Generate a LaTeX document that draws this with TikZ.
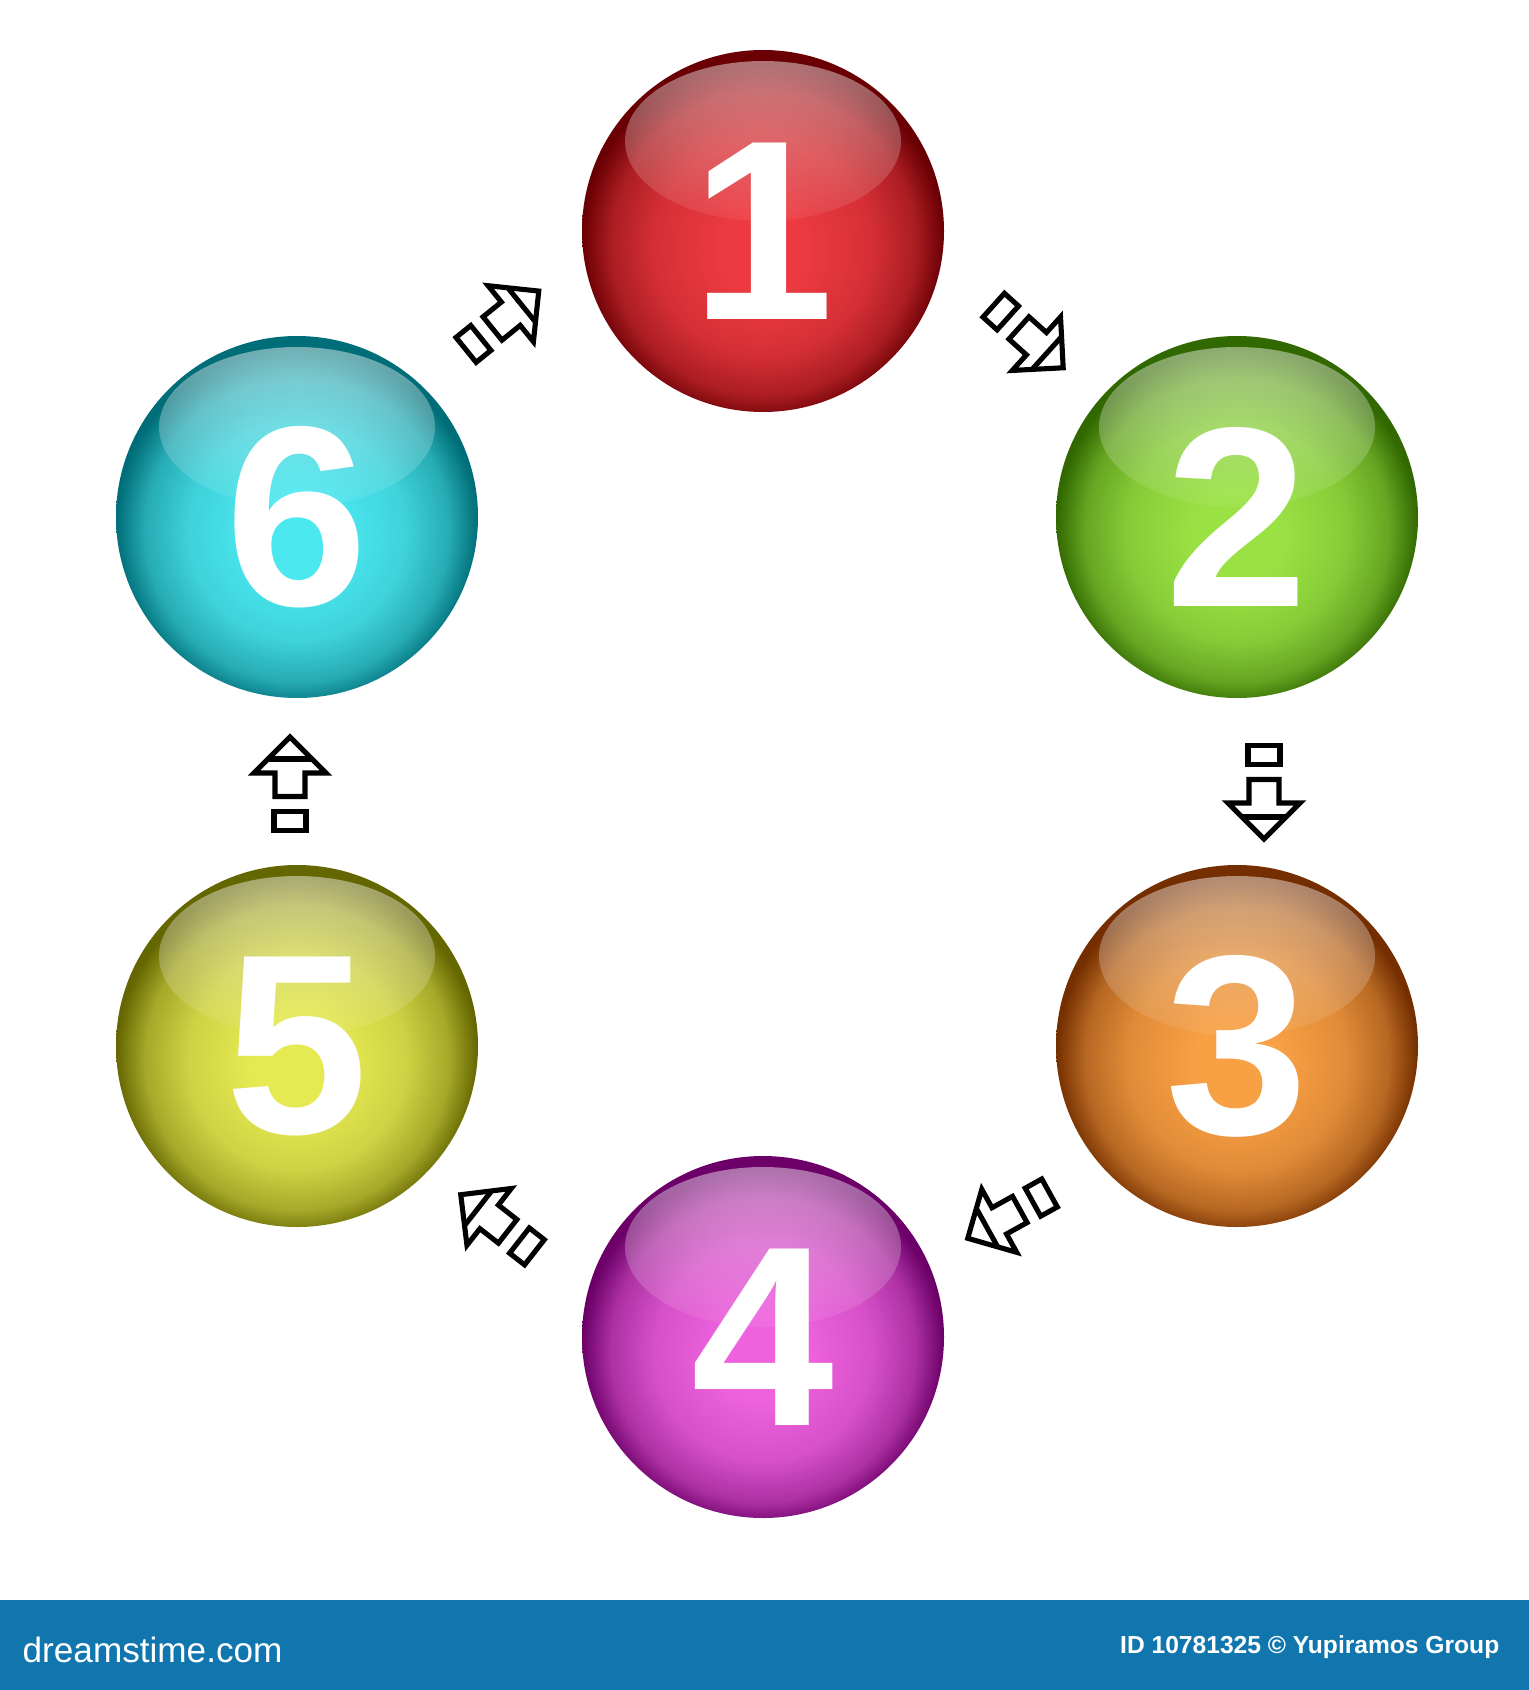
\documentclass[tikz,border=0pt]{standalone}
\usepackage{fontspec}
\setmainfont{Liberation Sans}
\usetikzlibrary{fadings}

\definecolor{redin}{HTML}{EC3A40}  \definecolor{redout}{HTML}{6A0004}
\definecolor{greenin}{HTML}{9AE244} \definecolor{greenout}{HTML}{316800}
\definecolor{orangein}{HTML}{F8A044} \definecolor{orangeout}{HTML}{742E00}
\definecolor{pinkin}{HTML}{EE62DE}  \definecolor{pinkout}{HTML}{6C0068}
\definecolor{olivein}{HTML}{E6EA52} \definecolor{oliveout}{HTML}{646600}
\definecolor{cyanin}{HTML}{4CE8F0}  \definecolor{cyanout}{HTML}{006E78}
\definecolor{barblue}{HTML}{1276AE}

\colorlet{glossin}{white}
\colorlet{glossout}{black}
\pgfdeclareradialshading[glossin,glossout]{gloss}{\pgfpoint{0bp}{-3bp}}{%
  color(0bp)=(glossin); color(6bp)=(glossin); color(15bp)=(glossout!18!glossin);
  color(21bp)=(glossout!50!glossin); color(25bp)=(glossout); color(50bp)=(glossout)}
\tikzfading[name=glossfade, top color=transparent!55, bottom color=transparent!94]

\tikzset{
  ball/.style 2 args={circle, inner sep=0pt, minimum size=36.2mm, shading=gloss,
    /utils/exec={\colorlet{glossin}{#1}\colorlet{glossout}{#2}},
    text=white, font=\fontsize{73}{73}\selectfont\bfseries},
  shine/.style={fill=white, path fading=glossfade},
  arrowline/.style={draw=black, line width=1.45pt, line join=miter},
  steparrow/.pic={
    \draw[arrowline] (-47.5,-16) rectangle (-28.5,16);
    \draw[arrowline] (-13.5,-15) -- (10,-15) -- (10,-36) -- (46,0) -- (10,36) -- (10,15) -- (-13.5,15) -- cycle;
    \draw[arrowline] (24,-22) -- (24,22);
  }
}

\begin{document}
\begin{tikzpicture}[x=0.1mm, y=-0.1mm]
  \useasboundingbox (0,0) rectangle (1529,1690);

  % the six balls
  \node[ball={redin}{redout}]       (b1) at (763,231)  {1};
  \node[ball={greenin}{greenout}]   (b2) at (1237,517) {2};
  \node[ball={orangein}{orangeout}] (b3) at (1237,1046) {3};
  \node[ball={pinkin}{pinkout}]     (b4) at (763,1337) {4};
  \node[ball={olivein}{oliveout}]   (b5) at (297,1046) {5};
  \node[ball={cyanin}{cyanout}]     (b6) at (297,517)  {6};

  \foreach \b in {b1,b2,b3,b4,b5,b6} {
    \fill[shine] ([yshift=9mm]\b.center) ellipse [x radius=13.8mm, y radius=8mm];
  }

  % arrows round the ring
  \foreach \x/\y/\ang in {1029/337/-42, 1264/793/-90, 1008/1216/-151,
                          497/1223/142, 290/783/90, 503/320/39} {
    \pic[rotate=\ang] at (\x,\y) {steparrow};
  }

  % bottom bar
  \fill[barblue] (0,1600) rectangle (1529,1690);
  \node[anchor=base west, inner sep=0pt, text=white, font=\fontsize{10}{10}\selectfont] (site) at (22,1662) {dreamstime.com};
  \node[anchor=base east, inner sep=0pt, text=white, font=\fontsize{7}{7}\selectfont\bfseries] (credit) at (1500,1653) {ID 10781325 © Yupiramos Group};
\end{tikzpicture}
\end{document}
